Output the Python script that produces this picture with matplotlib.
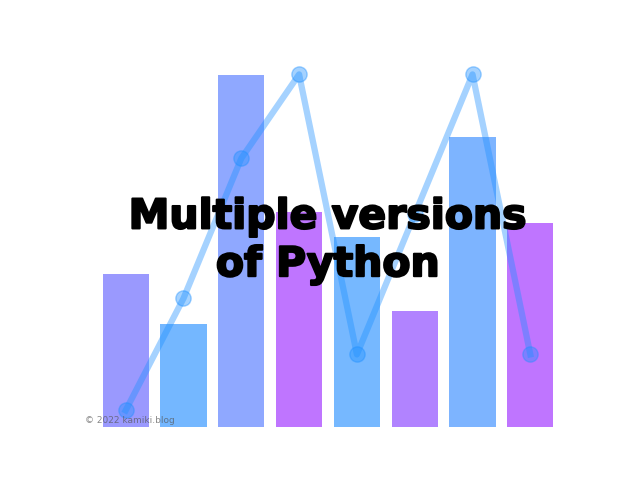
import matplotlib
matplotlib.use("Agg")
import matplotlib.pyplot as plt
import matplotlib.patheffects as pe

# bar heights (arbitrary units) and line values
bar_values = [43.5, 29.3, 100, 61, 54, 33, 82.5, 58]
bar_colors = ['#9a99fe', '#74b7ff', '#8fa8ff', '#bf75ff',
              '#76b8ff', '#b183ff', '#7db4ff', '#bf75ff']
line_values = [1, 3, 5.5, 7, 2, 4.5, 7, 2]

title = "Multiple versions\nof Python"
credit = "© 2022 kamiki.blog"

fig, ax = plt.subplots(figsize=(6.4, 4.8), dpi=100)
x = range(len(bar_values))
ax.bar(x, bar_values, width=0.8, color=bar_colors)
ax.axis('off')

ax2 = ax.twinx()
ax2.plot(x, line_values, color='dodgerblue', alpha=0.4, linewidth=4.5,
         marker='o', markersize=11)
ax2.axis('off')

ax2.text(0.5, 0.503, title, transform=ax2.transAxes, ha='center', va='center',
         fontsize=29.5, fontweight='bold', family='DejaVu Sans',
         linespacing=1.25, color='black', zorder=10,
         path_effects=[pe.withStroke(linewidth=1.5, foreground='black')])

fig.text(0.133, 0.123, credit, fontsize=6.5, color='#555555', alpha=0.7,
         va='center', ha='left')

fig.savefig("out.png", dpi=100)
